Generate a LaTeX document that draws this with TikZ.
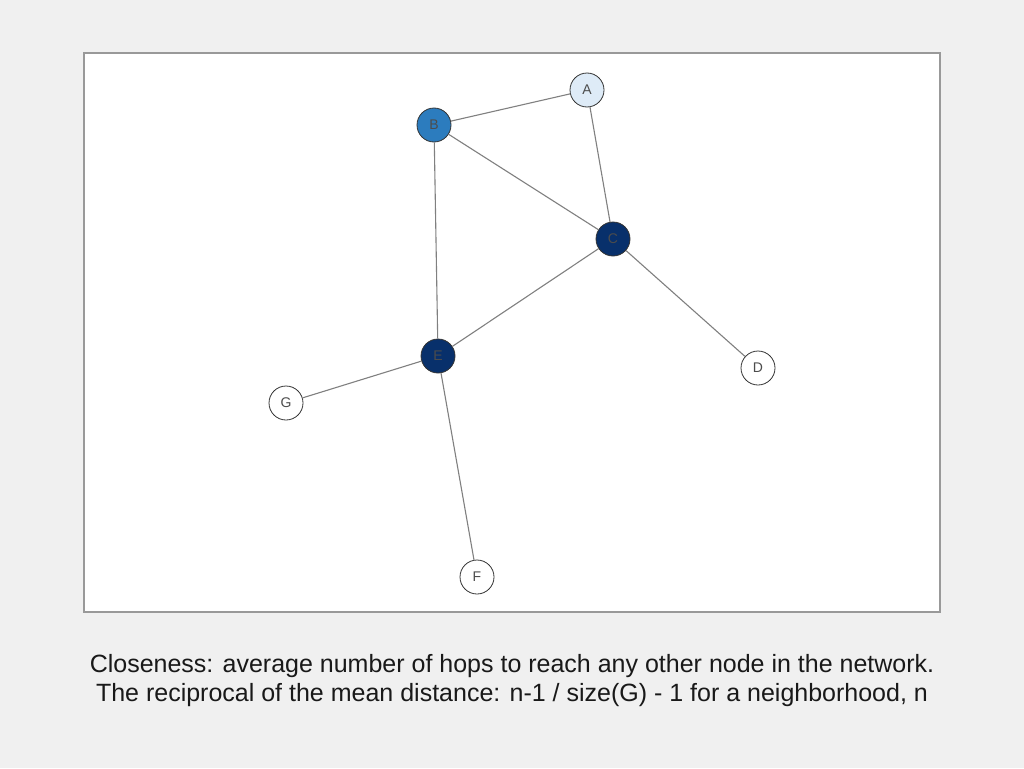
\documentclass[tikz,border=0pt]{standalone}
\usepackage{fontspec}
\setmainfont{Liberation Sans}
\begin{document}
\begin{tikzpicture}[x=1pt,y=-1pt,
  nd/.style={circle,draw=black!80,line width=0.8pt,minimum size=34pt,inner sep=0pt,font=\fontsize{14}{14}\selectfont,text=black!70},
  ed/.style={draw=black!50,line width=1.1pt}]
\fill[gray!12] (0,0) rectangle (1024,768);
\useasboundingbox (0,0) rectangle (1024,768);
\node[draw=black!40,line width=1.2pt,fill=white,minimum width=856pt,minimum height=559pt,inner sep=0pt] (frame) at (512,332.5) {};
\node[nd,fill={rgb,255:red,222;green,235;blue,247}] (A) at (587,90) {A};
\node[nd,fill={rgb,255:red,44;green,124;blue,190}] (B) at (434,125) {B};
\node[nd,fill={rgb,255:red,8;green,48;blue,107}] (C) at (613,239) {C};
\node[nd,fill={rgb,255:red,8;green,48;blue,107}] (E) at (438,356) {E};
\node[nd,fill=white] (D) at (758,368) {D};
\node[nd,fill=white] (G) at (286,403) {G};
\node[nd,fill=white] (F) at (477,577) {F};
\draw[ed] (B)--(A); \draw[ed] (A)--(C); \draw[ed] (B)--(C); \draw[ed] (B)--(E);
\draw[ed] (C)--(E); \draw[ed] (C)--(D); \draw[ed] (E)--(G); \draw[ed] (E)--(F);
\node[font=\fontsize{25}{29}\selectfont,text=black!90,align=center] (cap) at (512,681)
 {Closeness: average number of hops to reach any other node in the network.\\The reciprocal of the mean distance: n-1 / size(G) - 1 for a neighborhood, n};
\end{tikzpicture}
\end{document}
